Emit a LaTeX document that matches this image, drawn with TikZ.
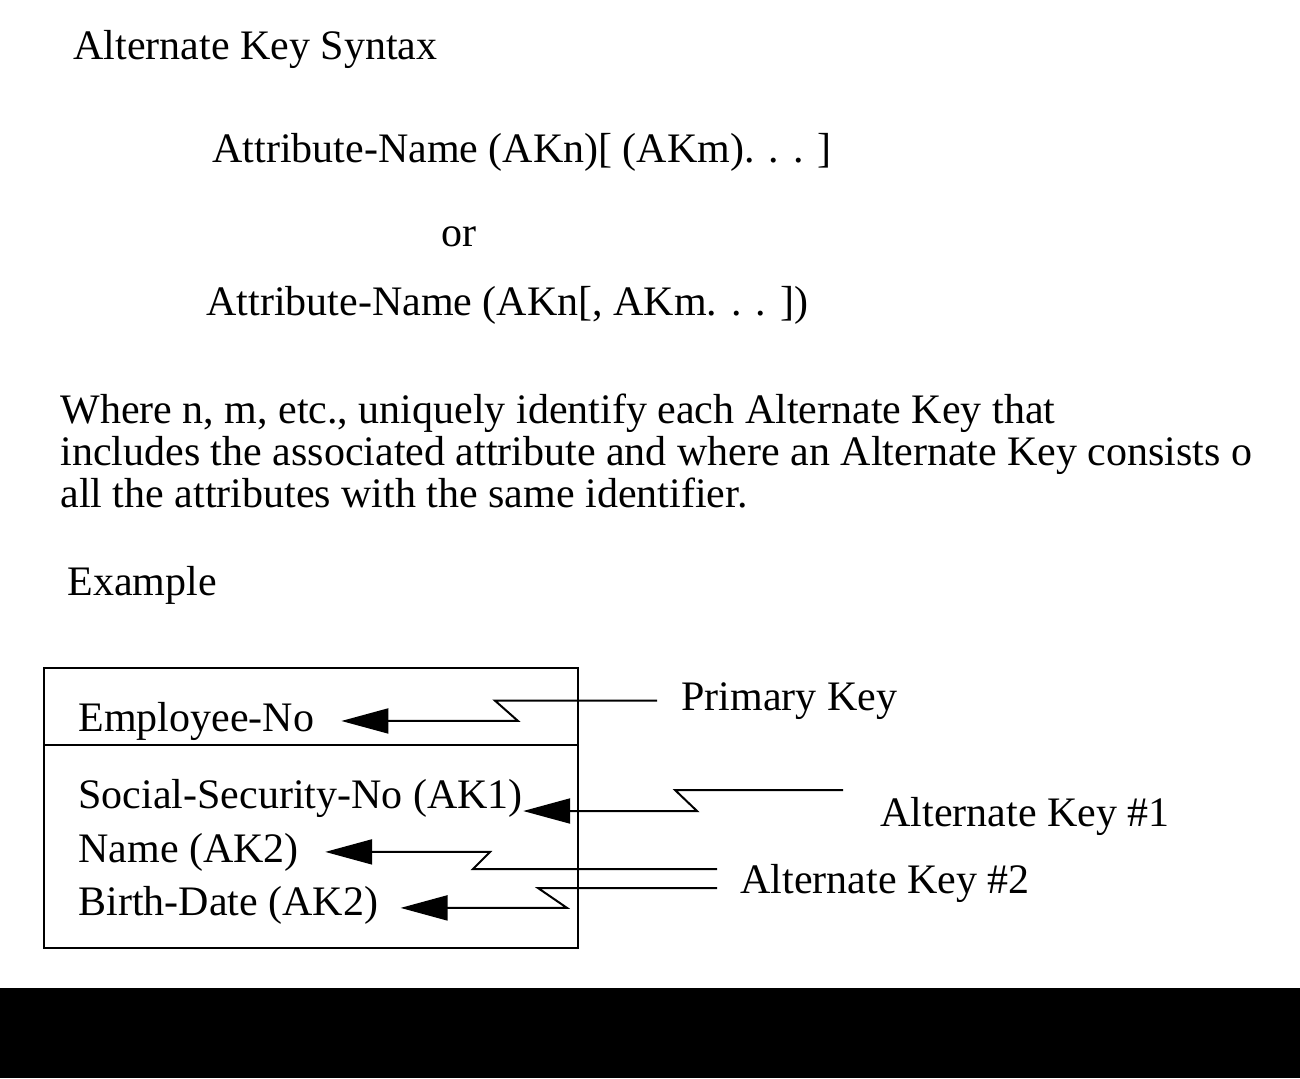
\documentclass[tikz,border=0pt]{standalone}
\usepackage{fontspec}
\setmainfont{Liberation Serif}
\usetikzlibrary{arrows.meta}

\begin{document}
\begin{tikzpicture}[x=0.5pt,y=-0.5pt,
	txt/.style={anchor=base west,inner sep=0pt,font=\fontsize{21pt}{21pt}\selectfont},
	keyarrow/.style={line width=1pt,-{Triangle[length=23.5pt,width=12.5pt]}}]
	\useasboundingbox (0,0) rectangle (1300,1078);
	
	% cú pháp
	\node[txt] (title) at (73,59) {Alternate Key Syntax};
	\node[txt] (synA) at (212,162) {Attribute-Name (AKn)[ (AKm). . . ]};
	\node[txt] (orw) at (441,246) {or};
	\node[txt] (synB) at (206,315) {Attribute-Name (AKn[, AKm. . . ])};
	
	% giải thích
	\node[txt] (paraA) at (60,423) {Where n, m, etc., uniquely identify each Alternate Key that};
	\node[txt] (paraB) at (60,465) {includes the associated attribute and where an Alternate Key consists o};
	\node[txt] (paraC) at (60,507) {all the attributes with the same identifier.};
	\node[txt] (example) at (67,595) {Example};
	
	% thực thể
	\draw[line width=1pt] (44,668) rectangle (578,948);
	\draw[line width=1pt] (44,745) -- (578,745);
	\foreach \nm/\yb/\lbl in {emp/731/Employee-No,ssn/808/Social-Security-No (AK1),nam/862/Name (AK2),bir/915/Birth-Date (AK2)} {
		\node[txt] (\nm) at (78,\yb) {\lbl};
	}
	
	% nhãn khóa
	\node[txt] (pk) at (681,710) {Primary Key};
	\node[txt] (akOne) at (880,826) {Alternate Key \#1};
	\node[txt] (akTwo) at (740,893) {Alternate Key \#2};
	
	% mũi tên khóa chính
	\coordinate (pkA) at (495,0);
	\coordinate (pkB) at (518,0);
	\draw[keyarrow,shorten <=12pt,shorten >=13.5pt] (pk.west) -- (pk.west -| pkA) -- (emp.east -| pkB) -- (emp.east);
	
	% khóa thay thế 1
	\coordinate (akoA) at (843,790);
	\coordinate (akoB) at (675,790);
	\coordinate (akoC) at (697,0);
	\coordinate (ssnT) at ([yshift=-1.5pt]ssn.base east);
	\draw[keyarrow] (akoA) -- (akoB) -- (ssnT -| akoC) -- (ssnT);
	
	% khóa thay thế 2
	\coordinate (aktA) at (717,869);
	\coordinate (aktB) at (473,869);
	\coordinate (aktC) at (490,0);
	\draw[keyarrow,shorten >=13pt] (aktA) -- (aktB) -- (nam.east -| aktC) -- (nam.east);
	\coordinate (aktD) at (717,888);
	\coordinate (aktE) at (538,888);
	\coordinate (aktF) at (567,0);
	\coordinate (birT) at ([yshift=-1.5pt]bir.east);
	\draw[keyarrow,shorten >=11pt] (aktD) -- (aktE) -- (birT -| aktF) -- (birT);
	
	% dải đen dưới cùng
	\fill (0,988) rectangle (1300,1078);
\end{tikzpicture}
\end{document}
